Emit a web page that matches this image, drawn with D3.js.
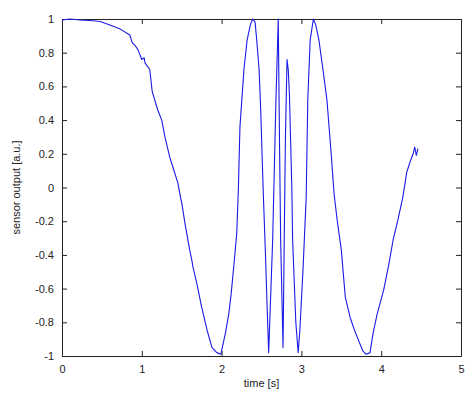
<!DOCTYPE html>
<html>
<head>
<meta charset="utf-8">
<script src="https://cdn.jsdelivr.net/npm/d3@7"></script>
<style>
  body { margin: 0; background: #fff; }
  text { font-family: "Liberation Sans", Arial, sans-serif; }
</style>
</head>
<body>
<svg id="chart"></svg>
<script>
// time [s]
const time = [
  0, 0.10, 0.23, 0.39, 0.48, 0.60, 0.73, 0.85, 0.88, 0.92, 0.95, 1.00, 1.03, 1.04, 1.10,
  1.13, 1.20, 1.25, 1.29, 1.35, 1.39, 1.45, 1.49, 1.50, 1.54, 1.60, 1.63, 1.64, 1.69,
  1.75, 1.82, 1.88, 1.94, 1.99, 2.05, 2.09, 2.12, 2.16, 2.19, 2.21, 2.23, 2.28, 2.32, 2.36,
  2.39, 2.42, 2.44, 2.47, 2.49, 2.52, 2.55, 2.57, 2.59, 2.64, 2.68, 2.71, 2.725, 2.74, 2.77,
  2.785, 2.80, 2.82, 2.835, 2.85, 2.88, 2.89, 2.93, 2.96, 2.98, 3.02, 3.06, 3.08, 3.11,
  3.15, 3.18, 3.22, 3.27, 3.32, 3.37, 3.41, 3.45, 3.50, 3.55, 3.61, 3.66, 3.71, 3.77, 3.81, 3.86,
  3.90, 3.95, 4.03, 4.09, 4.15, 4.21, 4.27, 4.32, 4.36, 4.40, 4.42, 4.44, 4.46
];
// sensor output [a.u.]
const output = [
  0.994, 1.0, 0.994, 0.99, 0.985, 0.965, 0.94, 0.905, 0.86, 0.84, 0.82, 0.76, 0.77, 0.74, 0.70,
  0.57, 0.46, 0.40, 0.30, 0.18, 0.12, 0.03, -0.07, -0.09, -0.21, -0.37, -0.44, -0.47, -0.57,
  -0.71, -0.85, -0.95, -0.98, -0.99, -0.86, -0.75, -0.63, -0.43, -0.27, -0.01, 0.36, 0.70, 0.875, 0.965,
  1.0, 0.98, 0.875, 0.70, 0.46, 0.0, -0.4, -0.7, -0.98, -0.31, 0.5, 1.0, 0.3, -0.31, -0.95,
  -0.3, 0.3, 0.76, 0.70, 0.55, 0.0, -0.31, -0.8, -0.98, -0.85, -0.49, -0.06, 0.52, 0.875,
  1.0, 0.965, 0.875, 0.70, 0.52, 0.22, -0.04, -0.2, -0.37, -0.65, -0.77, -0.84, -0.90, -0.97, -0.99, -0.98,
  -0.86, -0.75, -0.61, -0.47, -0.31, -0.19, -0.06, 0.09, 0.15, 0.20, 0.24, 0.19, 0.23
];
const xTicks = [0, 1, 2, 3, 4, 5];
const yTicks = [-1, -0.8, -0.6, -0.4, -0.2, 0, 0.2, 0.4, 0.6, 0.8, 1];

const width = 474, height = 397;
const margin = {top: 19, right: 13, bottom: 41, left: 62};
const innerW = width - margin.left - margin.right;
const innerH = height - margin.top - margin.bottom;

const svg = d3.select('#chart')
    .attr('width', width)
    .attr('height', height);

const chart = svg.append('g')
    .attr('transform', `translate(${margin.left},${margin.top})`);

const x = d3.scaleLinear().domain([0, 5]).range([0, innerW]);
const y = d3.scaleLinear().domain([-1, 1]).range([innerH, 0]);

const fmt = d => String(+d.toFixed(1));

// MATLAB style: ticks point inwards, on all four sides
chart.append('g')
    .attr('class', 'axis')
    .attr('transform', `translate(0,${innerH})`)
    .call(d3.axisBottom(x).tickValues(xTicks).tickFormat(fmt).tickSizeInner(-5).tickSizeOuter(0).tickPadding(9));
chart.append('g')
    .attr('class', 'axis')
    .call(d3.axisTop(x).tickValues(xTicks).tickFormat('').tickSizeInner(-5).tickSizeOuter(0));
chart.append('g')
    .attr('class', 'axis')
    .call(d3.axisLeft(y).tickValues(yTicks).tickFormat(fmt).tickSizeInner(-5).tickSizeOuter(0).tickPadding(8));
chart.append('g')
    .attr('class', 'axis')
    .attr('transform', `translate(${innerW},0)`)
    .call(d3.axisRight(y).tickValues(yTicks).tickFormat('').tickSizeInner(-5).tickSizeOuter(0));

chart.selectAll('.axis path, .axis line').attr('stroke', '#222');
chart.selectAll('.axis text').attr('font-size', 11).attr('fill', '#222');

const data = time.map((t, i) => ({t: t, v: output[i]}));

const line = d3.line()
    .x(d => x(d.t))
    .y(d => y(d.v));

chart.append('path')
    .datum(data)
    .attr('fill', 'none')
    .attr('stroke', '#1a1ae6')
    .attr('stroke-width', 1.1)
    .attr('stroke-linejoin', 'round')
    .attr('d', line);

svg.append('text')
    .attr('x', margin.left + innerW / 2)
    .attr('y', height - 10)
    .attr('text-anchor', 'middle')
    .attr('font-size', 11)
    .attr('fill', '#222')
    .text('time [s]');

svg.append('text')
    .attr('transform', `translate(20,${margin.top + innerH / 2}) rotate(-90)`)
    .attr('text-anchor', 'middle')
    .attr('font-size', 11)
    .attr('fill', '#222')
    .text('sensor output [a.u.]');
</script>
</body>
</html>
